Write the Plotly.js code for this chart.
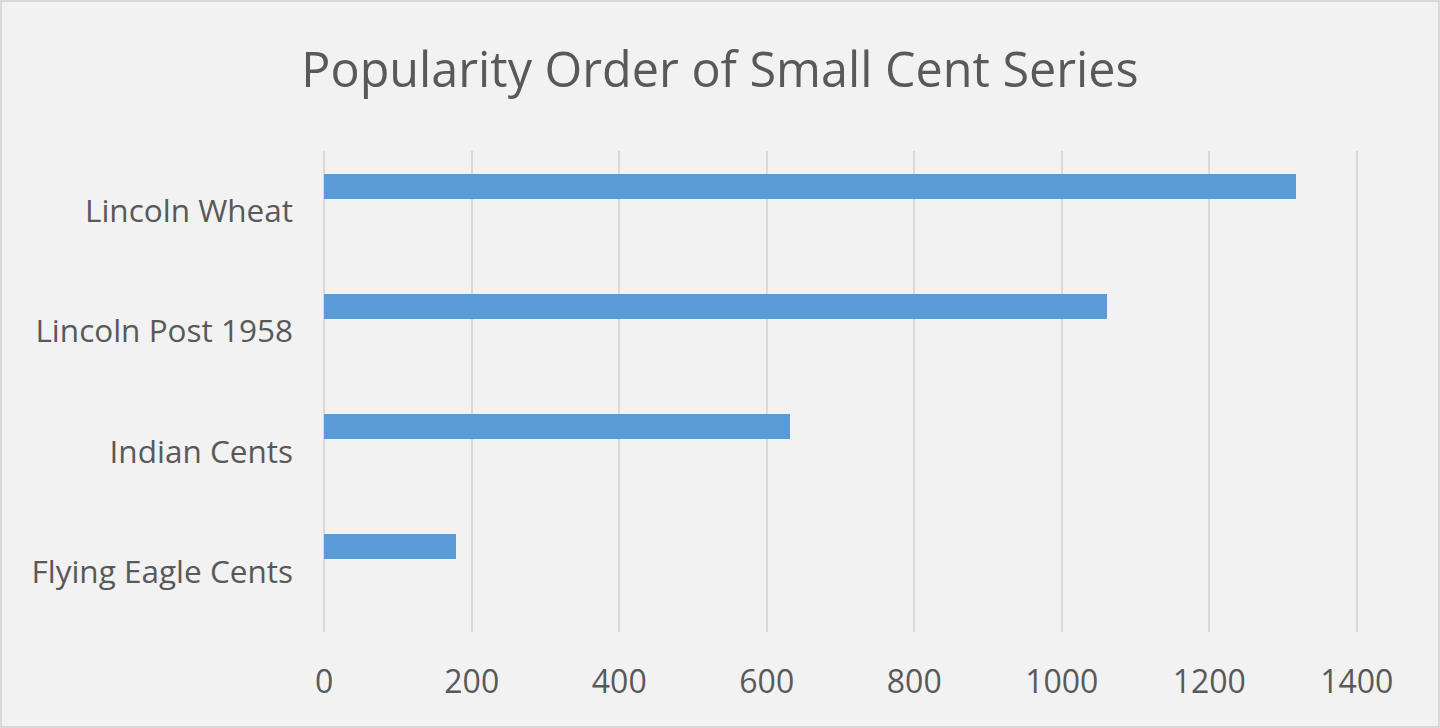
<!DOCTYPE html>
<html>
<head>
<meta charset="utf-8">
<script src="https://cdn.plot.ly/plotly-3.0.1.min.js"></script>
<style>
  html, body { margin: 0; padding: 0; background: #F2F2F2; }
  #frame { position: absolute; left: 0; top: 0; width: 1440px; height: 728px; box-sizing: border-box; border: 2px solid #D9D9D9; background: #F2F2F2; }
  #chart { width: 1436px; height: 724px; }
</style>
</head>
<body>
<div id="frame"><div id="chart"></div></div>
<script>
const chartTitle = "Popularity Order of Small Cent Series";
const categories = ["Flying Eagle Cents", "Indian Cents", "Lincoln Post 1958", "Lincoln Wheat"];
const values = [178, 632, 1062, 1317];
const xTicks = [0, 200, 400, 600, 800, 1000, 1200, 1400];

const textColor = "#595959";
const fontFamily = "'Open Sans', 'Noto Sans', sans-serif";

const trace = {
  type: "bar",
  orientation: "h",
  y: categories,
  x: values,
  marker: { color: "#5B9BD5" },
  offset: 0.104,
  width: 0.208,
  hoverinfo: "x+y"
};

const layout = {
  width: 1436,
  height: 724,
  paper_bgcolor: "#F2F2F2",
  plot_bgcolor: "#F2F2F2",
  showlegend: false,
  margin: { l: 320.3, r: 79.1, t: 149, b: 94, pad: 0 },
  title: {
    text: chartTitle,
    font: { family: fontFamily, size: 48.5, color: textColor },
    x: 0.5, xanchor: "center", xref: "container",
    y: 1 - 68 / 724, yanchor: "middle", yref: "container"
  },
  xaxis: {
    range: [-3, 1403],
    tickvals: xTicks,
    ticktext: xTicks.map(String),
    showgrid: true,
    gridcolor: "#D9D9D9",
    gridwidth: 2,
    zeroline: false,
    showline: false,
    ticks: "",
    ticklabelstandoff: 28,
    tickfont: { family: fontFamily, size: 32, color: textColor },
    fixedrange: true
  },
  yaxis: {
    type: "category",
    categoryorder: "array",
    categoryarray: categories,
    range: [-0.5, 3.5],
    showgrid: false,
    zeroline: false,
    showline: false,
    ticks: "",
    ticklabelstandoff: 28,
    tickfont: { family: fontFamily, size: 31.5, color: textColor },
    fixedrange: true
  },
  bargap: 0
};

Plotly.newPlot("chart", [trace], layout, { displayModeBar: false, staticPlot: true });
</script>
</body>
</html>
